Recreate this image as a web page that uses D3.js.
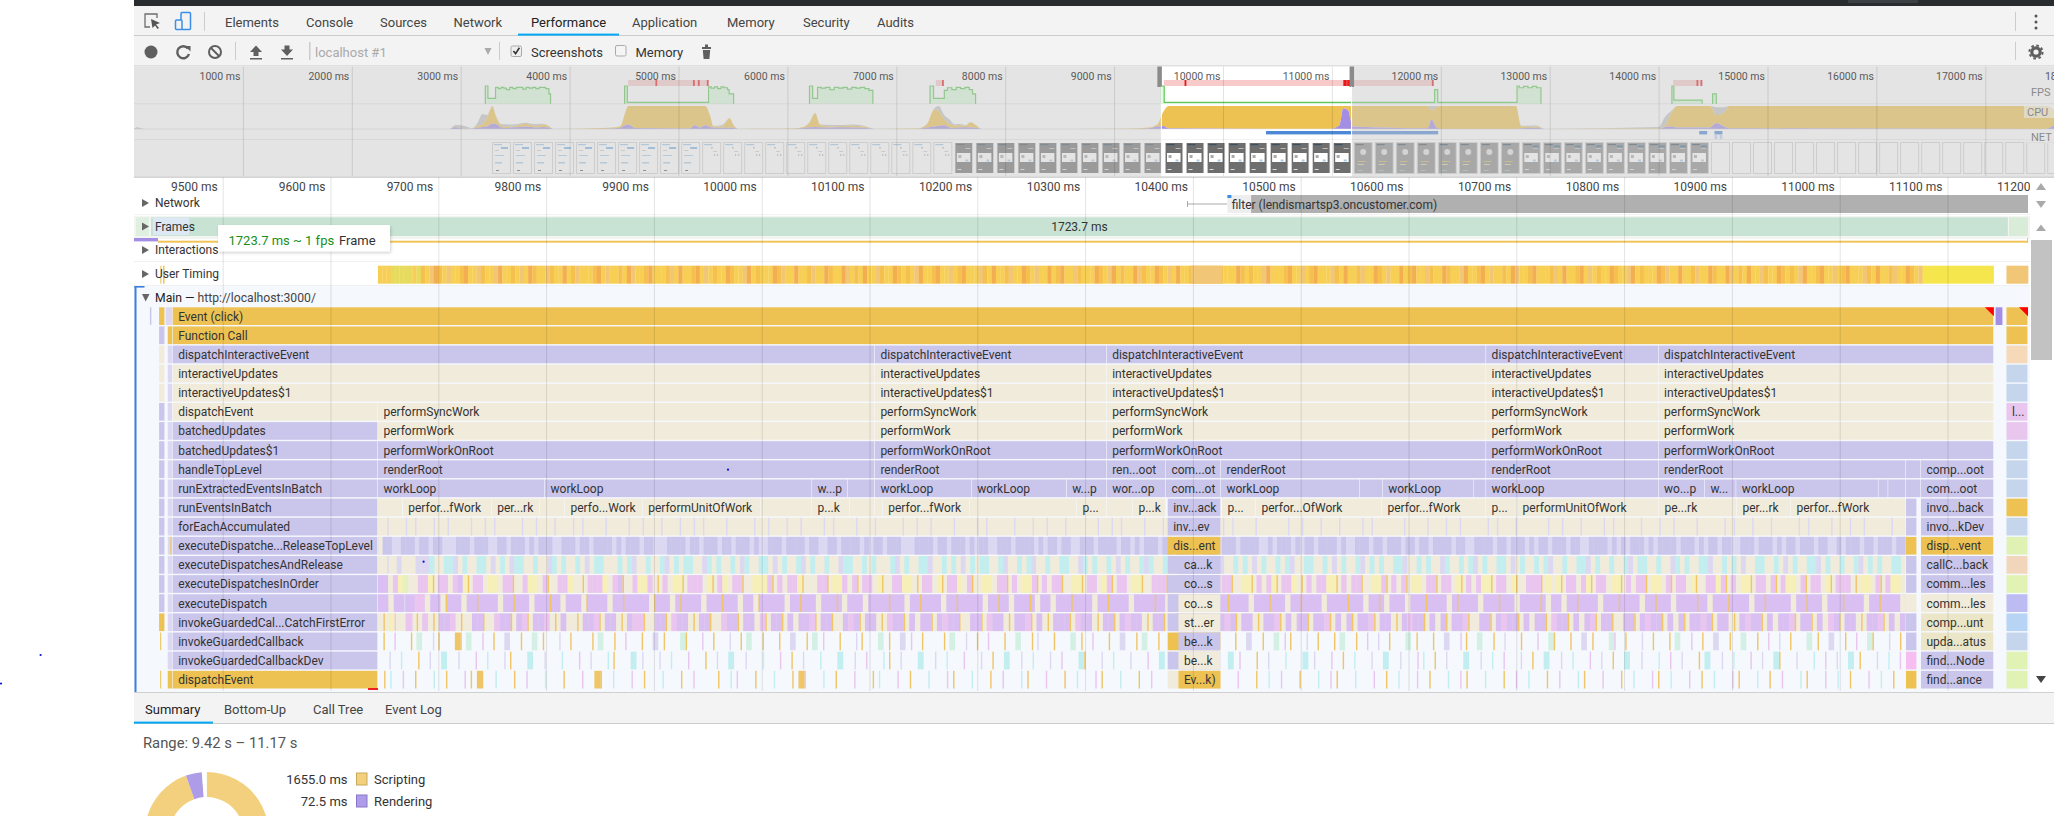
<!DOCTYPE html>
<html>
<head>
<meta charset="utf-8">
<script src="https://cdn.jsdelivr.net/npm/d3@7"></script>
<style>
html, body { margin: 0; padding: 0; background: #fff; overflow: hidden; }
svg { display: block; font-family: Roboto, sans-serif; }
text { dominant-baseline: central; }
</style>
</head>
<body>
<div id="chart"></div>
<script>
// ---- data ----
const panelTabs = ['Elements', 'Console', 'Sources', 'Network', 'Performance', 'Application', 'Memory', 'Security', 'Audits']
const panelTabX = [225, 306, 380, 453.5, 531, 632, 727, 803, 877]

const overviewTicks = [1000, 2000, 3000, 4000, 5000, 6000, 7000, 8000, 9000, 10000, 11000, 12000, 13000, 14000, 15000, 16000, 17000, 18000]
const rulerTicks = [9500, 9600, 9700, 9800, 9900, 10000, 10100, 10200, 10300, 10400, 10500, 10600, 10700, 10800, 10900, 11000, 11100, 11200]
const selectionMs = [9434, 11176]

// fps strip, step values from 0 to 1
const fpsTimes = [0, 3226, 3250, 3320, 3345, 3370, 3395, 3420, 3450, 3480, 3510, 3540, 3570, 3600, 3630, 3660, 3690, 3720, 3750, 3780, 3810, 3825,
  4505, 4530, 5276, 5300, 5330, 5360, 5390, 5420, 5450, 5465, 5506,
  6203, 6232, 6277, 6310, 6350, 6390, 6430, 6470, 6510, 6550, 6590, 6630, 6670, 6710, 6750, 6785,
  7310, 7342, 7441, 7470, 7510, 7550, 7590, 7630, 7670, 7700, 7728,
  9434, 9460, 11943, 11972, 12700, 12720, 12760, 12800, 12840, 12880, 12920,
  14122, 14140, 14400, 14496, 14530, 17631]
const fpsLevels = [0, 1, .3, .92, .85, .92, .88, .8, .92, .85, .92, .92, .82, .92, .88, .92, .85, .92, .92, .85, .55, 0,
  1, .08, .95, .88, .95, .85, .95, .9, .8, .55, 0,
  1, .3, .92, .88, .92, .8, .92, .88, .92, .82, .92, .88, .92, .85, .75, 0,
  1, .3, .75, .9, .8, .92, .85, .92, .8, .55, 0,
  1, .08, .8, .08, 1, .9, .98, .9, .98, .9, 0,
  1, .2, 0, .55, 0, 0]

// long task marks over the fps strip
const longTasks = [[4538, 5276], [7363, 7425], [9457, 11160], [11190, 11932], [14133, 14400]]
const longTaskTicks = [4788, 5133, 5178, 5260, 7420, 9647, 11105, 11120, 11140, 11155, 11918, 14348, 14385]

// cpu strip, percent per activity
const cpuTimes = [0, 30, 60, 100, 2900, 2950, 3000, 3050, 3100, 3150, 3200, 3240, 3290, 3330, 3370, 3420, 3480, 3540, 3600, 3650, 3700, 3760, 3810, 3850,
  4300, 4420, 4470, 4510, 4540, 4600, 5100, 5150, 5200, 5245, 5290, 5320, 5400, 5470, 5510, 5550,
  6050, 6150, 6200, 6255, 6300, 6400, 6500, 6600, 6700, 6800,
  7200, 7280, 7350, 7390, 7440, 7490, 7530, 7580, 7640, 7680, 7730, 7780,
  9100, 9300, 9400, 9450, 9500, 10990, 11070, 11105, 11150, 11190, 11880, 11915, 11960, 12000, 12690, 12740, 12800, 12880, 12950,
  14000, 14060, 14120, 14170, 14470, 14530, 14600, 14650, 17560, 17631]
const cpuRendering = [0, 0, 0, 0, 0, 8, 2, 1, 0, 4, 8, 10, 22, 20, 6, 3, 6, 8, 10, 8, 5, 8, 4, 0,
  0, 2, 5, 15, 18, 3, 1, 15, 5, 15, 8, 5, 4, 4, 3, 0,
  0, 3, 6, 8, 6, 5, 6, 5, 4, 0,
  0, 5, 10, 12, 15, 5, 3, 5, 6, 5, 4, 0,
  0, 1, 10, 12, 2, 0, 15, 90, 80, 10, 2, 40, 5, 0, 0, 2, 3, 4, 0,
  0, 8, 10, 5, 5, 25, 10, 2, 0, 15]
const cpuScripting = [0, 0, 0, 0, 0, 2, 1, 1, 0, 8, 12, 35, 75, 25, 10, 5, 4, 8, 12, 8, 6, 10, 6, 0,
  3, 4, 8, 55, 82, 97, 99, 85, 95, 85, 50, 5, 6, 42, 8, 0,
  2, 5, 20, 60, 10, 5, 6, 8, 6, 0,
  2, 15, 75, 65, 25, 15, 12, 8, 8, 22, 12, 0,
  1, 3, 10, 60, 98, 100, 85, 10, 20, 90, 98, 40, 90, 100, 100, 8, 5, 6, 0,
  2, 5, 60, 95, 95, 35, 60, 98, 100, 70]
const cpuOther = [0, 6, 3, 0, 0, 6, 12, 8, 2, 10, 45, 15, 3, 5, 5, 12, 8, 6, 4, 6, 10, 4, 2, 0,
  0, 0, 0, 0, 0, 0, 0, 0, 0, 0, 0, 2, 6, 0, 3, 0,
  0, 0, 0, 2, 2, 6, 4, 5, 3, 0,
  0, 0, 5, 23, 20, 20, 5, 8, 2, 2, 0, 0,
  0, 0, 0, 0, 0, 0, 0, 0, 0, 0, 0, 20, 5, 0, 0, 3, 5, 4, 0,
  5, 40, 10, 0, 0, 35, 25, 0, 0, 0]

// network strip: start, end, lane
const netRequests = [[10395, 11976, 0], [14373, 14446, 0], [14513, 14586, 0], [14513, 14540, 1], [14560, 14586, 1]]

// screenshot film strip: kind of frame, how many in a row
const filmKinds = ['detail', 'sparse', 'dark', 'dark', 'circle', 'panel', 'empty']
const filmCounts = [10, 12, 10, 9, 8, 9, 17]
const filmStartMs = 3287
const filmStepMs = 193

// flame chart rows, top to bottom
const leftLabels = ['Event (click)', 'Function Call', 'dispatchInteractiveEvent', 'interactiveUpdates', 'interactiveUpdates$1', 'dispatchEvent',
  'batchedUpdates', 'batchedUpdates$1', 'handleTopLevel', 'runExtractedEventsInBatch', 'runEventsInBatch', 'forEachAccumulated',
  'executeDispatche...ReleaseTopLevel', 'executeDispatchesAndRelease', 'executeDispatchesInOrder', 'executeDispatch',
  'invokeGuardedCal...CatchFirstError', 'invokeGuardedCallback', 'invokeGuardedCallbackDev', 'dispatchEvent']
const leftColors = 'oopbbbpppppppppppppo'
const leftTickColors = 'opbbbppppppppppposss'
const callStarts = [10105, 10320, 10672, 10832]
const callLabels = ['dispatchInteractiveEvent', 'interactiveUpdates', 'interactiveUpdates$1', 'performSyncWork', 'performWork', 'performWorkOnRoot']
const callColors = 'pbbbbp'

const renderRow = [[9644, 10105, 'p', 'renderRoot'], [10105, 10320, 'p', 'renderRoot'], [10320, 10375, 'p', 'ren...oot'], [10375, 10426, 'p', 'com...ot'],
  [10426, 10672, 'p', 'renderRoot'], [10672, 10832, 'p', 'renderRoot'], [10832, 11061.5, 'p', 'renderRoot'], [11061.5, 11075.4, 'p', ''], [11075.4, 11143, 'p', 'comp...oot']]
const loopRow = [[9644, 9799, 'p', 'workLoop'], [9799, 10046.7, 'p', 'workLoop'], [10046.7, 10080, 'p', 'w...p'], [10080, 10105, 'p', ''],
  [10105, 10194.8, 'p', 'workLoop'], [10194.8, 10283, 'p', 'workLoop'], [10283, 10320, 'p', 'w...p'], [10320, 10375, 'p', 'wor...op'], [10375, 10426, 'p', 'com...ot'],
  [10426, 10555, 'p', 'workLoop'], [10555, 10576, 'p', ''], [10576, 10660.8, 'p', 'workLoop'], [10660.8, 10672, 'p', ''], [10672, 10832, 'p', 'workLoop'],
  [10832, 10875, 'p', 'wo...p'], [10875, 10904, 'p', 'w...'], [10904, 11036, 'p', 'workLoop'], [11036, 11045, 'p', ''], [11045, 11061.5, 'p', ''], [11061.5, 11075.4, 'p', ''], [11075.4, 11143, 'p', 'com...oot']]
const unitRow = [[9644, 9667, 'b', ''], [9667, 9749.5, 'b', 'perfor...fWork'], [9749.5, 9794, 'b', 'per...rk'], [9794, 9817.5, 'b', ''], [9817.5, 9889.6, 'b', 'perfo...Work'],
  [9889.6, 9999.4, 'b', 'performUnitOfWork'], [9999.4, 10046.7, 'b', ''], [10046.7, 10081.9, 'b', 'p...k'], [10081.9, 10105, 'b', ''], [10105, 10112.3, 'b', ''],
  [10112.3, 10193, 'b', 'perfor...fWork'], [10193, 10292.5, 'b', ''], [10292.5, 10320.3, 'b', 'p...'], [10320.3, 10344.4, 'b', ''], [10344.4, 10375, 'b', 'p...k'],
  [10376.6, 10426, 'p', 'inv...ack'], [10427, 10458.5, 'b', 'p...'], [10458.5, 10575.4, 'b', 'perfor...OfWork'], [10575.4, 10671.9, 'b', 'perfor...fWork'],
  [10671.9, 10700.7, 'b', 'p...'], [10700.7, 10832.4, 'b', 'performUnitOfWork'], [10832.4, 10904.7, 'b', 'pe...rk'], [10904.7, 10954.8, 'b', 'per...rk'],
  [10954.8, 11061.5, 'b', 'perfor...fWork'], [11061.5, 11071.7, 'p', ''], [11075.4, 11143, 'p', 'invo...back']]

// rows 11 to 19 around the commit call in the middle, the narrow column and the last call
const midLabels = ['inv...ev', 'dis...ent', 'ca...k', 'co...s', 'co...s', 'st...er', 'be...k', 'be...k', 'Ev...k)']
const midLeadColors = 'poppppopb'
const midColors = 'poppbbpbo'
const narrowColors = 'poppbppio'
const lastLabels = ['invo...kDev', 'disp...vent', 'callC...back', 'comm...les', 'comm...les', 'comp...unt', 'upda...atus', 'find...Node', 'find...ance']
const lastColors = 'poppbeepp'
const farColors = ['#f5d9b8', '#c5d5ec', '#c5d5ec', '#e8c6ee', '#e8c6ee', '#c5d5ec', '#c5d5ec', '#c5d5ec', '#edc252', '#c5d5ec', '#dff2b4', '#f2d6bc', '#e2f2b4', '#bcbcf2', '#b8d4f5', '#c5d5ec', '#e0f2b4', '#e0f2b4']

// dense call stripes, one letter per slice of time, capitals are hairlines
const stripeSpan = [9644, 11061]
const stripeBases = 'blbbvbwww'
const stripeRows = [
  'bbLbbbLbLbbbLbbLbbbbLbbLbLbbbbbLbbLbbbLbbbLbLbbbbLbbbbLbbLbbbLbbbLbbLbLbbbbLbbbbbLbbLbbbLbbLbbbbLbLbbbbLbbbLbbbbbLbbLbbLbbbbLbbbbLbLbbbbbLbbbLbbLbbbLbbbbbbLbbLbLbbbbLbbbLbbbbbLbbLbbbLbLbbbbLbbbbbbLbbLbbbLbbbLbbbbLbLbbbbbbLbbbbLbbbLbbLbbbbbLbLbbbLbbbbbbLbbLbbbLbbbbLbLbbbbbLbbbLbbLbbbbLbbbbbLbLbbbLbbbLbbbbbLbLbbbbLbbbLbbLbbbbbLbb',
  'lppllppplpplpplllppplpppllpplppplplpppllppplpplpppplplppplpplllpppplpplppplpplppplpllppplpppplppllpplpppplplpplppplllpppplpplppplplppllppplpppplplpplppllppplpppplpplplppplpplppplllppplppplppppllplppplplpplpppplpllppplpplppplpplpplpppplppllpppplpplppplplpplppplppllpppplplplppplplpppplppplplpplppllppplppplplpplppplppllplppplpplppplpp',
  'bbLblbbblllcbbcclbcbbccblbcblccbbcbblcbcbbcblbccbbbcbclbbcbbclbcbccbblcbcbbcblcbbccblbcbbclbcbbcbblccbbcbcbbbclbcbbcclbbcbcblbcbccbbclbbcbclbbcbbccbblcbcbbcblbcbbclcbbcbbclbcbbccblbbcbcblbcbbcbclbbccbbcblbcbbclbcbcbbcclbbcbcbblcbbcbclbcbbccblbcbbcbclbbcbbcclbcbbcbbclbccbbcbblcbcbbcclbbcbcblbbccbbcblbcbbcclbcbbcbbclbcbcbbccb',
  'vvbkygbbkkyOkkbkvyOkkbyybkkObkyybkObkkybbOkkkybkvObkyykbOkbyyOkkkbyOkybkkObyyykOkbkkyObbkkOyykbkOkkbyObkkyybOkkbyOkkybkObyybkkOkbyykOkbkkObyyOkkbykOkkbyyObkkkOybkkyObkybkkObyyOkbkyOkkybOkbkkyyOkbkkObyykOkbkOyybkkOkkbyOkbkyyOkkbyObkkkOybyOkkbkyOkkbyyOkbkkOyybkOkkbyObkkykOkbyyOkkbkOkyybkOkkbyOkkkbOyybkOkyyb',
  'vvbvvLvkkbvvbOvvbvvOvvvbvvOvvbvvvOvbvvvbOvvvbvvOvvvvbOvvbvOvvvbvvvOvvbvvbOvvvvbvvOvvbvvvObvvvbvvvvOvvbvvOvvvbvvOvvvvbvvOvbvvvObvvbvvvOvvvbvvOvvvbvvvvOvbvvObvvvvbvvOvvvbvvvOvvbvvOvvvbvvvvOvvbvvObvvvbvvvOvvvbvOvvvbvvvOvvbvvvvObvvbvvOvvvbvvvOvvvbvvOvvbvvvvOvbvvvOvvvbvvOvvvvbvvOvvbvvvOvvvbvvOvvvb',
  'bOyKbkKOkbOvvkbObvvObkvvOvkOvvkbOvbbOvvkOvvbOvkkObvvOkvvbOvvObkvvOvvbkOvvOvbvvkOvvObvkvOvvbOkvvOvbvvOvkvvObvvOkvvbOvvkOvbOvvvOkvvbOvvOvkvvbOvvObvkOvvvbOvkvOvvbOvvkOvbvvOvvkOvbvOvvkOvvbOvkvvOvbvOvvkObvvOvkvvOvbvvOkvvOvbvkOvvObvvOvkvvOvbvOvvkvOvvbOvkvvOvbvvkOvvOvbkvOvvbOvvkOvbv',
  'wOwKwwOmwwLOwwoOmwwKwOwlwwOwmwOwwLwOwwwOmwwOwKwwOwlwOwwmOwwKwOwwLwOmwwOwwOwlwwOmwKwwOwwLOwwmwOwlwKwOwwwOmwwLwOwKwwOwmwwOLwwOwwmwOwKwwOwlwwOmwwOwwLwOwKwwmOwwOwlwwOwmwKOwwLwOwwOmwwOwKwLwOwwmwOwwOwlwwKOwmwwOwLwwOwwKwmOwwOwlwOwwmKwOwwLwOwwOmwwKwOwlwwOwmwwOwKwLwOwwmwOwlwwOwKwmOwwLwO',
  'wwLwCwwOwLwcwwLwwKwCwwLOwwcwwLwwCwwKwLwwCOwwcwLwwLwCwwKwwOwLwcwwLwwCwwKwOwLwwCwwcwwLwKwwCOwLwwcwwLwCwwKwwLwOwcwwLwCwwLwKwwcOwwLwCwwLwwKwcwOwLwwCwwLwcwKwwOwLwwCwwcwLwwKwOwCwwLwcwwLwwKCwOwLwwcwwLwCwKwwLwOwcwwLwCwwKwLwOwcwwLwwCwKwLwwOcwwLwCwwKwLwcOwwLwwCwKwLwcwOwwLwCwK',
  'wOCwKwOwwCwOwwKOowwCwwOwKwwCwwOwwKwoOwCwwKwOwwCwwOwKwwwOwCKwwOwwCwwOoKwwCwOwwKwwOCwwKwOwwCwwKOwwCwwOwKwwCOwwKwwOwCwwKOwwCwwOwKwwCwOwwKwCOwwKwwOwCwKwwOwwCwKOwwCwwKwOwCwwKwOwwCwKOwwCwwOwKwCwwOwKwwCOwwKwwOwCwwKOwCwwKwOwCwwKOwwCwOwKwwCOwwKwCwOwwKwCwOw'
]

// user timing band
const timingSpan = [9644, 11077]
const timingStripes = 'aaahhhhhahdaefdaeaadfaaedaaefaadaeafdaaedaafadeaaadfaeaadafeaadfaaadeafaadfaeadaafdaaefadaaafdeaafaadeaafdaafeadafaaedaafdadaefaadfaaeadfaaaedafaadeaafdaeaafadfaaedaaafdaefadaafedaafdaeafaadfaeaaedaaafdadaaefaaadfaaeadfaaaedafaadeaafdaeaafadfaaedaafdaaefaadfaeaadafeaadfaaadeafaadfaeadaafdaaefadaaafdeaafaadeaafdaafeadafaaedaafdadaefaadfaaeadfaaaedafaadeaafdae'
const timingBlocks = [[10398, 10427, 'e'], [11077, 11143, 'y'], [11154.7, 11175, 'e']]

const summaryLabels = ['Scripting', 'Rendering']
const summaryValues = [1655.0, 72.5]
const summaryPie = [1655.0, 72.5, 1.2, 21.3]

// ---- page setup ----
const width = 2054
const height = 816
const svg = d3.select('#chart').append('svg').attr('width', width).attr('height', height)

const palette = { b: '#f1ebdb', p: '#cac5eb', o: '#edc252', l: '#dcd8f2', c: '#c2eef0', k: '#e9c5f0', y: '#f6f0b8', v: '#d9bff2', m: '#d4f0e4', w: '#f5f8fd', g: '#e4f2c0', i: '#f5bdf0', e: '#ebe6c8', r: '#a48ee4', s: '#f5f8fd' }
const timingPalette = { a: '#f8cf55', d: '#f6c04e', e: '#f1c676', f: '#f2ae50', h: '#e6db5e', y: '#f6e64d' }

const label = (parent, x, y, str, size, fill, anchor) => parent.append('text')
  .attr('x', x).attr('y', y).attr('font-size', size).attr('fill', fill)
  .attr('text-anchor', anchor || 'start').text(str)
const box = (parent, x, y, w, h, fill) => parent.append('rect')
  .attr('x', x).attr('y', y).attr('width', w).attr('height', h).attr('fill', fill)

// ---- toolbars ----
const chrome = svg.append('g')
box(chrome, 134, 0, 1920, 6, '#292c2f')
box(chrome, 1848, 0, 70, 3, '#3c3f43')
box(chrome, 134, 6, 1920, 60, '#f3f3f3')
box(chrome, 134, 35, 1920, 1, '#ccc')
box(chrome, 134, 65.5, 1920, 1, '#ccc')
panelTabs.forEach((t, i) => label(chrome, panelTabX[i], 22, t, 13, i === 4 ? '#222' : '#444'))
box(chrome, 518, 33.6, 101, 2, '#03a9f4')
box(chrome, 204, 12, 1, 19, '#ccc')
box(chrome, 2015, 12, 1, 19, '#ccc')
box(chrome, 2015, 42, 1, 18, '#ccc')
box(chrome, 235, 42, 1, 18, '#ccc')
box(chrome, 309, 42, 1.5, 18, '#ccc')
box(chrome, 499, 42, 1, 18, '#ccc')

// inspect + device toggles
chrome.append('path').attr('d', 'M157 18V14H145V27H150').attr('fill', 'none').attr('stroke', '#6e6e6e').attr('stroke-width', 1.3)
chrome.append('path').attr('d', 'M151 19L160 23L156 24.6L159 28L157.5 29L155 25.6L152.5 28Z').attr('fill', '#555')
chrome.append('rect').attr('x', 181).attr('y', 12.5).attr('width', 9.5).attr('height', 17).attr('rx', 1).attr('fill', 'none').attr('stroke', '#3b8ee8').attr('stroke-width', 1.5)
chrome.append('rect').attr('x', 175.5).attr('y', 20).attr('width', 6.5).attr('height', 9.5).attr('rx', 1).attr('fill', '#f3f3f3').attr('stroke', '#3b8ee8').attr('stroke-width', 1.5)
// kebab
;[16, 22, 28].forEach(y => chrome.append('circle').attr('cx', 2036).attr('cy', y).attr('r', 1.5).attr('fill', '#555'))

// record row
chrome.append('circle').attr('cx', 151).attr('cy', 52).attr('r', 6.5).attr('fill', '#5f5f5f')
chrome.append('path').attr('d', 'M188 48.5A6 6 0 1 0 189 54').attr('fill', 'none').attr('stroke', '#5f5f5f').attr('stroke-width', 2.4)
chrome.append('path').attr('d', 'M185 46H190.5V51.5Z').attr('fill', '#5f5f5f')
chrome.append('circle').attr('cx', 215).attr('cy', 52).attr('r', 6).attr('fill', 'none').attr('stroke', '#5f5f5f').attr('stroke-width', 2)
chrome.append('path').attr('d', 'M211 48L219 56').attr('stroke', '#5f5f5f').attr('stroke-width', 2)
chrome.append('path').attr('d', 'M256 45.5L262 52H258.5V56H253.5V52H250Z M250 58H262V59.4H250Z').attr('fill', '#5f5f5f')
chrome.append('path').attr('d', 'M287 56L281 49.5H284.5V45.5H289.5V49.5H293Z M281 58H293V59.4H281Z').attr('fill', '#5f5f5f')
label(chrome, 315, 52, 'localhost #1', 13, '#aaa')
chrome.append('path').attr('d', 'M484.5 48H491.5L488 55Z').attr('fill', '#aaa')
chrome.append('rect').attr('x', 511).attr('y', 46).attr('width', 10.5).attr('height', 10.5).attr('rx', 1.5).attr('fill', '#eee').attr('stroke', '#aaa')
chrome.append('path').attr('d', 'M513.4 51L515.6 53.6L519.4 47.8').attr('fill', 'none').attr('stroke', '#333').attr('stroke-width', 1.6)
label(chrome, 531, 52, 'Screenshots', 13, '#333')
chrome.append('rect').attr('x', 615.5).attr('y', 45.5).attr('width', 10.5).attr('height', 10.5).attr('rx', 1.5).attr('fill', '#f5f5f5').attr('stroke', '#aaa')
label(chrome, 635.5, 52, 'Memory', 13, '#333')
chrome.append('path').attr('d', 'M702 47H711V49H702Z M705 44.5H708V47H705Z M702.8 50H710.2L709.4 59H703.6Z').attr('fill', '#5f5f5f')
chrome.append('circle').attr('cx', 2036).attr('cy', 52).attr('r', 4.2).attr('fill', 'none').attr('stroke', '#5f5f5f').attr('stroke-width', 3.2)
chrome.append('circle').attr('cx', 2036).attr('cy', 52).attr('r', 6.6).attr('fill', 'none').attr('stroke', '#5f5f5f').attr('stroke-width', 2).attr('stroke-dasharray', '2.6 2.6')

// ---- overview ----
const overviewTop = 66.5
const overviewBottom = 176.5
const overviewX = d3.scaleLinear().domain([0, 18000]).range([134, 134 + 18000 * 0.1089])
const fpsY = d3.scaleLinear().domain([0, 1]).range([103.7, 86])
const cpuY = d3.scaleLinear().domain([0, 100]).range([128.7, 106])

const overview = svg.append('g')
box(overview, 134, overviewTop, 1920, overviewBottom - overviewTop, '#fff')

const fpsData = fpsTimes.map((t, i) => ({ t, v: fpsLevels[i] }))
const fpsArea = d3.area().curve(d3.curveStepAfter).x(d => overviewX(d.t)).y0(fpsY(0)).y1(d => fpsY(d.v))
overview.append('path').datum(fpsData).attr('d', fpsArea).attr('fill', '#dcfbdc')

// the outline only runs where there are frames, never along the empty baseline
const fpsRuns = []
let fpsRun = null
fpsData.forEach(d => {
  if (d.v > 0) {
    if (!fpsRun) {
      fpsRun = [{ t: d.t, v: 0 }]
      fpsRuns.push(fpsRun)
    }
    fpsRun.push(d)
  } else if (fpsRun) {
    fpsRun.push(d)
    fpsRun = null
  }
})
overview.selectAll('.fpsRun').data(fpsRuns).enter().append('path')
  .attr('d', fpsArea.lineY1()).attr('fill', 'none').attr('stroke', '#5ec856').attr('stroke-width', 1.2)

overview.selectAll('.longTask').data(longTasks).enter().append('rect')
  .attr('x', d => overviewX(d[0])).attr('width', d => overviewX(d[1]) - overviewX(d[0]))
  .attr('y', 80).attr('height', 6).attr('fill', '#f8caca')
overview.selectAll('.longTick').data(longTaskTicks).enter().append('rect')
  .attr('x', d => overviewX(d)).attr('width', 1.8).attr('y', 80).attr('height', 6).attr('fill', '#e8181a')

const cpuData = cpuTimes.map((t, i) => ({ t, rendering: cpuRendering[i], scripting: cpuScripting[i], other: cpuOther[i] }))
const cpuStack = d3.stack().keys(['rendering', 'scripting', 'other'])(cpuData)
const cpuFill = { rendering: '#a48ee4', scripting: '#edc252', other: '#c4c4c4' }
const cpuArea = d3.area().curve(d3.curveMonotoneX).x(d => overviewX(d.data.t)).y0(d => cpuY(d[0])).y1(d => cpuY(d[1]))
overview.selectAll('.cpu').data(cpuStack.slice().reverse()).enter().append('path')
  .attr('d', cpuArea).attr('fill', d => cpuFill[d.key])

overview.selectAll('.net').data(netRequests).enter().append('rect')
  .attr('x', d => overviewX(d[0])).attr('width', d => overviewX(d[1]) - overviewX(d[0]))
  .attr('y', d => d[2] ? 135 : 131).attr('height', d => d[2] ? 4 : 3.4)
  .attr('fill', d => d[2] ? '#bcd4f5' : '#4d88d6')

// film strip
const film = []
filmKinds.forEach((k, i) => { for (let n = 0; n < filmCounts[i]; n++) film.push(k) })
const filmX = d3.scaleLinear().domain([0, 1]).range([overviewX(filmStartMs), overviewX(filmStartMs + filmStepMs)])
const filmG = overview.selectAll('.frame').data(film).enter().append('g')
  .attr('transform', (d, i) => 'translate(' + filmX(i) + ',142)')
const filmBg = { detail: '#fff', sparse: '#fff', dark: '#6e6e6e', circle: '#8a8a8a', panel: '#8a8a8a', empty: '#fff' }
filmG.append('rect').attr('x', 0.5).attr('y', 0.5).attr('width', 18).attr('height', 31)
  .attr('fill', d => filmBg[d]).attr('stroke', d => d === 'dark' ? '#fff' : '#d2d2d2')
filmG.each(function (d) {
  const g = d3.select(this)
  if (d === 'empty') return
  box(g, 2, 2, 8, 1.2, d === 'detail' || d === 'sparse' ? '#9cc4e8' : '#3c5060')
  if (d === 'detail') {
    box(g, 9, 5, 7, 2, '#7fb3e6')
    box(g, 3, 8, 4, 1, '#ccc')
    box(g, 3, 13, 9, 1, '#a8cbe8')
    box(g, 3, 20, 7, 1.5, '#a8c8e0')
    box(g, 4, 28, 3, 1, '#555')
  } else if (d === 'sparse') {
    box(g, 9, 5, 1.5, 1.5, '#aaa')
    box(g, 11, 9, 4, 1, '#ccc')
    box(g, 12, 12, 1, 2, '#aaa')
    box(g, 15, 12, 1, 2, '#aaa')
  } else if (d === 'dark' || d === 'panel') {
    box(g, 2.5, 11, 13.5, 9, '#fff')
    box(g, 4, 13, 3, 3, '#aaa')
    box(g, 11, 17.5, 3, 2, '#a8cbe8')
    box(g, 11, 6, 5, 1, '#bbb')
    box(g, 3, 27, 4, 1, '#ddd')
    if (d === 'panel') box(g, 11, 3.4, 6, 2, '#40708f')
  } else {
    g.append('circle').attr('cx', 9.5).attr('cy', 10).attr('r', 3).attr('fill', '#ddd')
    box(g, 4, 19, 8, 1, '#c8b060')
    box(g, 4, 22, 6, 1, '#d0d0a0')
    box(g, 4, 28, 5, 1, '#8fc0a0')
  }
})

const dim = 'rgba(200,200,200,.49)'
const selL = overviewX(selectionMs[0])
const selR = overviewX(selectionMs[1])
box(overview, 134, overviewTop, selL - 134, overviewBottom - overviewTop, dim)
box(overview, selR, overviewTop, 2054 - selR, overviewBottom - overviewTop, dim)
box(overview, 134, 103.4, 1920, 0.8, 'rgba(0,0,0,.06)')
box(overview, 134, 128.6, 1920, 0.8, 'rgba(0,0,0,.08)')
box(overview, 134, 139, 1920, 0.8, 'rgba(0,0,0,.06)')

const overviewAxis = d3.axisTop(overviewX).tickValues(overviewTicks)
  .tickSize(-(overviewBottom - overviewTop)).tickFormat(d => d + ' ms')
const overviewAxisG = overview.append('g').attr('transform', 'translate(0,' + overviewTop + ')').call(overviewAxis)
overviewAxisG.select('.domain').remove()
overviewAxisG.selectAll('line').attr('stroke', 'rgba(0,0,0,.11)')
overviewAxisG.selectAll('text').attr('x', -3).attr('y', 10).attr('dy', 0).attr('text-anchor', 'end')
  .attr('font-family', 'Roboto, sans-serif').attr('font-size', 10.5).attr('fill', '#5a5a5a')

box(overview, selL - 4, overviewTop, 4.5, 20.5, '#8b8b8b')
box(overview, selR - 1.5, overviewTop, 4.5, 20.5, '#8b8b8b')
box(overview, selL - 0.5, overviewTop + 20, 1, 90, '#fff')
box(overview, selR, overviewTop + 20, 1, 90, '#fff')

box(overview, 2024, 106, 30, 12, 'rgba(228,228,228,.65)')
box(overview, 2024, 131, 30, 12, 'rgba(228,228,228,.65)')
label(overview, 2031, 92, 'FPS', 11, '#8a8a8a')
label(overview, 2027, 112, 'CPU', 11, '#8a8a8a')
label(overview, 2031, 137, 'NET', 11, '#8a8a8a')
box(overview, 134, overviewBottom, 1920, 1.2, '#c4c4c4')

// ---- main timeline ----
const mainX = d3.scaleLinear().domain([9500, 11200]).range([222.7, 222.7 + 1700 * 1.078])
const rowIndex = d3.range(20)
const flameY = d3.scaleBand().domain(rowIndex).range([307.3, 688.5]).paddingInner(0.075)

svg.append('clipPath').attr('id', 'mainClip').append('rect').attr('x', 134).attr('y', 177).attr('width', 1896).attr('height', 516)
const main = svg.append('g').attr('clip-path', 'url(#mainClip)')

// track rows
box(main, 134, 214.3, 1896, 0.8, '#eee')
box(main, 134, 261, 1896, 0.8, '#eee')
box(main, 134, 285, 1896, 0.8, '#eee')
box(main, 134, 286, 1896, 407, '#f5f8fd')

// network
main.append('path').attr('d', 'M' + mainX(10395) + ' 201V207M' + mainX(10395) + ' 204H' + mainX(10432)).attr('stroke', '#aaa').attr('fill', 'none')
box(main, mainX(10432), 195, mainX(10454) - mainX(10432), 18, '#eeeeee')
box(main, mainX(10454), 195, mainX(11174.7) - mainX(10454), 18, '#b0b0b0')
box(main, mainX(10432), 195, 4, 3, '#3b8ee8')
label(main, mainX(10436), 204.5, 'filter (lendismartsp3.oncustomer.com)', 12, '#333')

// frames
box(main, 134, 216, 1896, 23, '#f3f5f3')
box(main, 136, 217.3, 13, 18.7, '#e0f0e0')
box(main, 151, 217.3, mainX(11156) - 151, 18.7, '#c8e3d3')
box(main, mainX(11157), 217.3, mainX(11174.7) - mainX(11157), 18.7, '#d8ecd8')
label(main, (151 + mainX(11156)) / 2, 226.5, '1723.7 ms', 12, '#333', 'middle')
box(main, 153, 217.5, 36, 17.5, '#dce8f4')

// frame + selection line
box(main, 134, 238, 24, 3.4, '#a48ee4')
box(main, 158, 240.7, mainX(11174.7) - 158, 2, '#f0c457')
box(main, mainX(11174.7) - 1, 238, 1, 4.7, '#f0c457')

// user timing
const timingX = d3.scaleLinear().domain([0, timingStripes.length]).range([mainX(timingSpan[0]), mainX(timingSpan[1])])
main.selectAll('.timing').data(timingStripes.split('')).enter().append('rect')
  .attr('x', (d, i) => timingX(i)).attr('width', (d, i) => timingX(i + 1) - timingX(i) + 0.2)
  .attr('y', 265.7).attr('height', 18).attr('fill', d => timingPalette[d])
main.selectAll('.timingBlock').data(timingBlocks).enter().append('rect')
  .attr('x', d => mainX(d[0])).attr('width', d => mainX(d[1]) - mainX(d[0]))
  .attr('y', 265.7).attr('height', 18).attr('fill', d => timingPalette[d[2]])
box(main, 160, 265.7, 1.6, 18, '#f0d890')
box(main, 163, 265.7, 1.6, 18, '#f0c860')

// flame chart
const flameBars = []
const addBar = (row, start, end, color, text) => flameBars.push({ row, start, end, color, text: text || '' })

rowIndex.forEach(r => addBar(r, 9441, 9446.5, leftTickColors[r]))
addBar(0, 9432.5, 9434.4, 'p')
addBar(0, 9447, 9453.6, 'l')
addBar(1, 9449, 9453.6, 'o')
rowIndex.slice(2, 19).forEach(r => addBar(r, 9449, 9453.6, 'l'))
addBar(12, 9451.5, 9453, 'o')
addBar(17, 9442, 9443.5, 'o')
addBar(19, 9442, 9443.5, 'o')
addBar(19, 9449, 9453.6, 'o')
const leftEnd = [11143, 11143, 10105, 10105, 10105]
rowIndex.forEach(r => addBar(r, 9453.6, leftEnd[r] || 9644, leftColors[r], leftLabels[r]))
addBar(0, 11144.6, 11151.5, 'r')
addBar(0, 11154.7, 11174.7, 'o')
addBar(1, 11154.7, 11174.7, 'o')

callLabels.forEach((name, c) => {
  const r = c + 2
  if (r >= 5) addBar(r, 9644, 10105, callColors[c], name)
  callStarts.forEach((s, i) => addBar(r, s, callStarts[i + 1] || 11143, callColors[c], name))
})
renderRow.forEach(d => addBar(8, d[0], d[1], d[2], d[3]))
loopRow.forEach(d => addBar(9, d[0], d[1], d[2], d[3]))
unitRow.forEach(d => addBar(10, d[0], d[1], d[2], d[3]))
midLabels.forEach((name, i) => {
  const r = i + 11
  addBar(r, 10376.6, 10426, midLeadColors[i], i < 2 ? name : '')
  if (i >= 2) addBar(r, 10386.6, 10426, midColors[i], name)
  addBar(r, 11061.5, 11071.7, narrowColors[i])
  addBar(r, 11075.4, 11143, lastColors[i], lastLabels[i])
})
farColors.forEach((c, i) => flameBars.push({ row: i + 2, start: 11154.7, end: 11174.7, fill: c, text: i === 3 ? 'l...' : '' }))

const flame = main.append('g')

// stripes first, the labelled bars sit on top
stripeRows.forEach((codes, i) => {
  const r = i + 11
  const sx = d3.scaleLinear().domain([0, codes.length]).range([mainX(stripeSpan[0]), mainX(stripeSpan[1])])
  box(flame, mainX(stripeSpan[0]), flameY(r), mainX(stripeSpan[1]) - mainX(stripeSpan[0]), flameY.bandwidth(), palette[stripeBases[i]])
  flame.selectAll('.s' + r).data(codes.split('').map((c, n) => ({ c, n })).filter(d => d.c !== stripeBases[i])).enter().append('rect')
    .attr('x', d => sx(d.n))
    .attr('width', d => d.c === d.c.toUpperCase() ? 1.4 : sx(d.n + 1) - sx(d.n) + 0.15)
    .attr('y', flameY(r)).attr('height', flameY.bandwidth())
    .attr('fill', d => d.c === 'O' || d.c === 'o' ? '#efc566' : palette[d.c.toLowerCase()])
})
box(flame, mainX(9644) + 0.5, flameY(12), 4, flameY.bandwidth(), '#f1ebdb')

const barG = flame.selectAll('.bar').data(flameBars).enter().append('g')
barG.append('rect')
  .attr('x', d => mainX(d.start)).attr('y', d => flameY(d.row))
  .attr('width', d => Math.max(mainX(d.end) - mainX(d.start) - 0.6, 0.8))
  .attr('height', flameY.bandwidth())
  .attr('fill', d => d.fill || palette[d.color])
barG.filter(d => d.text).append('text')
  .attr('x', d => mainX(d.start) + 5.5).attr('y', d => flameY(d.row) + flameY.bandwidth() / 2 + 0.5)
  .attr('font-size', 12).attr('fill', '#333').text(d => d.text)

// long task corners on the root event
const corners = [mainX(11143), mainX(11174.7)]
flame.selectAll('.corner').data(corners).enter().append('path')
  .attr('d', d => 'M' + (d - 9) + ' ' + flameY(0) + 'H' + d + 'V' + (flameY(0) + 9) + 'Z').attr('fill', '#f00')
box(flame, 368, 688, 10, 2, '#f02020')

// left side track names
const nameRows = [['Network', 203], ['Frames', 226.5], ['Interactions', 250], ['User Timing', 274]]
nameRows.forEach(d => {
  main.append('path').attr('d', 'M142 ' + (d[1] - 4) + 'L149 ' + d[1] + 'L142 ' + (d[1] + 4) + 'Z').attr('fill', '#666')
  label(main, 155, d[1], d[0], 12, '#333')
})
main.append('path').attr('d', 'M142 294L149.5 294L145.7 301.5Z').attr('fill', '#666')
main.append('text').attr('x', 155).attr('y', 297.7).attr('font-size', 12.2).attr('fill', '#222')
  .text('Main — ').append('tspan').attr('fill', '#444').text('http://localhost:3000/')

// main bracket
box(main, 134.5, 286, 2, 406, '#3d7fe0')
box(main, 134.5, 286, 10, 1.6, '#3d7fe0')

const rulerAxis = d3.axisTop(mainX).tickValues(rulerTicks).tickSize(-(691 - 177)).tickFormat(d => d + ' ms')
const rulerG = main.append('g').attr('transform', 'translate(0,177)').call(rulerAxis)
rulerG.select('.domain').remove()
rulerG.selectAll('line').attr('stroke', 'rgba(0,0,0,.11)')
rulerG.selectAll('text').attr('x', -5.5).attr('y', 10).attr('dy', 0).attr('text-anchor', 'end')
  .attr('font-family', 'Roboto, sans-serif').attr('font-size', 12).attr('fill', '#444')

// frame tooltip
const tip = svg.append('g')
tip.append('rect').attr('x', 219).attr('y', 226.5).attr('width', 172).attr('height', 26.5).attr('fill', 'rgba(0,0,0,.18)').attr('filter', 'blur(1.5px)')
box(tip, 218, 225, 172, 26.7, '#fff')
label(tip, 228.5, 240, '1723.7 ms ~ 1 fps', 13, '#1a8f1a')
label(tip, 339, 240, 'Frame', 13, '#333')

// stray cursor dots
const dots = [[728, 469.7], [423.6, 561.7], [40.6, 655], [1, 683.5]]
svg.selectAll('.dot').data(dots).enter().append('circle')
  .attr('cx', d => d[0]).attr('cy', d => d[1]).attr('r', 1.1).attr('fill', '#1212d8')

// scrollbars
const bar = svg.append('g')
bar.append('path').attr('d', 'M2036 190L2041 183L2046 190Z').attr('fill', '#aaa')
bar.append('path').attr('d', 'M2036 201L2041 208L2046 201Z').attr('fill', '#aaa')
bar.append('path').attr('d', 'M2036 231L2041 224.5L2046 231Z').attr('fill', '#aaa')
box(bar, 2031, 240, 21, 120, '#c2c2c2')
bar.append('path').attr('d', 'M2036 676L2041 683L2046 676Z').attr('fill', '#444')

// ---- bottom tabs and summary ----
const bottom = svg.append('g')
box(bottom, 134, 692, 1920, 1.2, '#d0d0d0')
box(bottom, 134, 693, 1920, 30, '#f3f3f3')
box(bottom, 134, 723, 1920, 1, '#ccc')
box(bottom, 134, 721.6, 79, 2, '#03a9f4')
const bottomTabs = ['Summary', 'Bottom-Up', 'Call Tree', 'Event Log']
const bottomTabX = [145, 224, 313, 385]
bottomTabs.forEach((t, i) => label(bottom, bottomTabX[i], 709, t, 13, i === 0 ? '#222' : '#444'))
label(bottom, 143, 743, 'Range: 9.42 s – 11.17 s', 14.8, '#555')

const pie = d3.pie().sort(null)(summaryPie)
const arc = d3.arc().innerRadius(37).outerRadius(62)
const pieColors = ['#f2d07e', '#af9ce8', '#9ed09a', '#ffffff']
bottom.append('g').attr('transform', 'translate(206.7,834)').selectAll('path').data(pie).enter().append('path')
  .attr('d', arc).attr('fill', (d, i) => pieColors[i])

const legendY = [779, 801]
const legendFill = ['#f2d07e', '#af9ce8']
const legendLine = ['#c9a95a', '#8a76c8']
summaryLabels.forEach((name, i) => {
  label(bottom, 347.5, legendY[i], summaryValues[i].toFixed(1) + ' ms', 13, '#333', 'end')
  bottom.append('rect').attr('x', 356.5).attr('y', legendY[i] - 6).attr('width', 10.5).attr('height', 12)
    .attr('fill', legendFill[i]).attr('stroke', legendLine[i])
  label(bottom, 374, legendY[i], name, 13, '#333')
})
</script>
</body>
</html>
